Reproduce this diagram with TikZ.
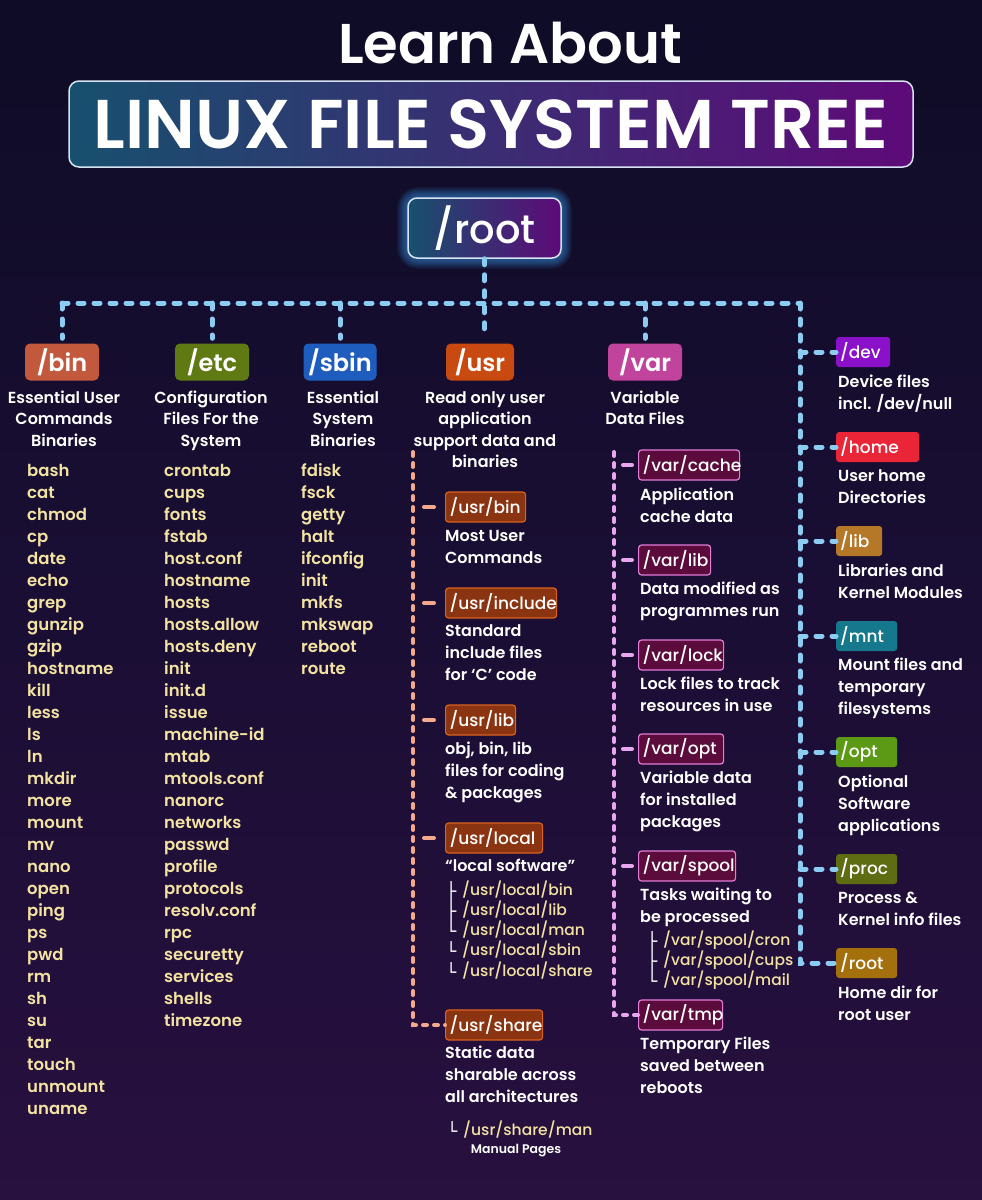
\documentclass[tikz,border=0pt]{standalone}
\usepackage{fontspec}
\usepackage{graphicx}
\setmainfont{Poppins}
\IfFontExistsTF{Poppins SemiBold}{\newfontfamily\psemi{Poppins SemiBold}}{\newfontfamily\psemi{Poppins}[FakeBold=1]}
\IfFontExistsTF{Poppins Medium}{\newfontfamily\pmed{Poppins Medium}}{\newfontfamily\pmed{Poppins}}
\newfontfamily\dv{DejaVu Sans}
\definecolor{bgT}{HTML}{0E0C26}
\definecolor{bgM}{HTML}{1A0E34}
\definecolor{bgB}{HTML}{28103F}
\definecolor{blueC}{HTML}{8CCBF2}
\definecolor{titleL}{HTML}{17506E}
\definecolor{titleR}{HTML}{5E0A78}
\definecolor{titleB}{HTML}{D6E2F2}
\definecolor{binC}{HTML}{C2583C}
\definecolor{etcC}{HTML}{5F7A12}
\definecolor{sbinC}{HTML}{1E5DBE}
\definecolor{usrC}{HTML}{C84A10}
\definecolor{varC}{HTML}{C1449C}
\definecolor{cream}{HTML}{F3E3A2}
\definecolor{usrL}{HTML}{F4A88C}
\definecolor{usrF}{HTML}{8B3411}
\definecolor{usrB}{HTML}{D8621E}
\definecolor{varL}{HTML}{E8A6EE}
\definecolor{varF}{HTML}{5C0C3C}
\definecolor{varB}{HTML}{E27CD6}
\definecolor{devC}{HTML}{8B10C9}
\definecolor{homeC}{HTML}{EA2538}
\definecolor{libC}{HTML}{B57728}
\definecolor{mntC}{HTML}{16788C}
\definecolor{optC}{HTML}{5C9A16}
\definecolor{procC}{HTML}{5E6C12}
\definecolor{rootC}{HTML}{A4700E}
\definecolor{glowC}{HTML}{3FA9FF}
\pgfdeclarelayer{bglayer}
\pgfdeclarelayer{glowlayer}
\pgfsetlayers{bglayer,glowlayer,main}
\tikzset{
  bl/.style={draw=blueC, line width=5pt, line cap=round, dash pattern=on 6pt off 10pt},
  ul/.style={draw=usrL, line width=4pt, line cap=round, dash pattern=on 4pt off 7pt},
  ulstub/.style={draw=usrL, line width=4pt, line cap=round, shorten <=11pt, shorten >=11pt},
  vl/.style={draw=varL, line width=4pt, line cap=round, dash pattern=on 4pt off 7pt},
  vlstub/.style={draw=varL, line width=4pt, line cap=round, shorten <=9pt, shorten >=6pt},
  mainbox/.style={rounded corners=5pt, text=white, inner sep=0pt, minimum height=37pt,
    font=\psemi\fontsize{24}{24}\selectfont},
  descc/.style={anchor=base, text=white, inner sep=0pt, font=\psemi\fontsize{16}{20}\selectfont},
  descl/.style={anchor=base west, text=white, inner sep=0pt, font=\psemi\fontsize{16}{20}\selectfont},
  itemtxt/.style={anchor=base west, text=cream, inner sep=0pt, font=\psemi\fontsize{16.5}{20}\selectfont},
  sidebox/.style={anchor=west, rounded corners=3pt, text=white, inner xsep=4pt, inner ysep=0pt,
    minimum height=30pt, text width=#1, align=left, font=\pmed\fontsize{17}{17}\selectfont},
  usrbox/.style={sidebox=#1, fill=usrF, draw=usrB, line width=1.2pt},
  varbox/.style={sidebox=#1, fill=varF, draw=varB, line width=1.2pt},
  treeg/.style={anchor=base west, text=white, inner sep=0pt, font=\dv\bfseries\fontsize{17}{17}\selectfont},
  treet/.style={anchor=base west, text=cream, inner sep=0pt, font=\pmed\fontsize{15.5}{18}\selectfont}
}
\begin{document}
\begin{tikzpicture}[x=1pt,y=-1pt]
\useasboundingbox (0,0) rectangle (982,1200);
\begin{pgfonlayer}{bglayer}
\shade[top color=bgT, bottom color=bgB, middle color=bgM] (0,0) rectangle (982,1200);
\end{pgfonlayer}

% ---------- Title ----------
\node[text=white, inner sep=0pt, anchor=base, font=\psemi\fontsize{56}{56}\selectfont] (learn) at (510,63) {Learn About};
\node[rounded corners=10pt, draw=titleB, line width=1.5pt, left color=titleL, right color=titleR,
      minimum width=844pt, minimum height=86pt, inner sep=0pt] (title) at (491,124) {};
\node[text=white, inner sep=0pt, anchor=base, font=\psemi\fontsize{69}{69}\selectfont] (titletxt) at (491,148) {LINUX FILE SYSTEM TREE};

% ---------- root ----------
\begin{pgfonlayer}{glowlayer}
\foreach \k in {1,...,9}
  \draw[draw=glowC, opacity=0.07, line width=\k*2.4pt, rounded corners=10pt] (408,198) rectangle (561,258);
\end{pgfonlayer}
\node[rounded corners=9pt, draw=titleB, line width=1.5pt, left color=titleL, right color=titleR,
      minimum width=153pt, minimum height=60pt, inner sep=0pt, text=white,
      font=\pmed\fontsize{40}{40}\selectfont] (root) at (484.5,228) {/root};

% ---------- top-level boxes ----------
\node[mainbox, fill=binC, minimum width=74pt] (bin) at (62,362) {/bin};
\node[mainbox, fill=etcC, minimum width=74pt] (etc) at (212,362) {/etc};
\node[mainbox, fill=sbinC, minimum width=73pt] (sbin) at (340,362) {/sbin};
\node[mainbox, fill=usrC, minimum width=68pt] (usr) at (480,362) {/usr};
\node[mainbox, fill=varC, minimum width=74pt] (var) at (645,362) {/var};

\coordinate (bL) at (62,303);
\coordinate (bR) at (800,303);
\draw[bl] (bL) -- (bR);
\draw[bl, shorten >=5pt] (root.south) -- (root.south |- usr.north);
\foreach \n in {bin,etc,sbin,var}
  \draw[bl, shorten >=5pt] (\n.north |- bL) -- (\n.north);

% ---------- descriptions ----------
\foreach \t [count=\i from 0] in {Essential User,Commands,Binaries}
  \node[descc] (bind\i) at (64,403+21.6*\i) {\t};
\foreach \t [count=\i from 0] in {Configuration,Files For the,System}
  \node[descc] (etcd\i) at (211,403+21.6*\i) {\t};
\foreach \t [count=\i from 0] in {Essential,System,Binaries}
  \node[descc] (sbind\i) at (343,403+21.6*\i) {\t};
\foreach \t [count=\i from 0] in {Read only user,application,support data and,binaries}
  \node[descc] (usrd\i) at (485,403+21.6*\i) {\t};
\foreach \t [count=\i from 0] in {Variable,Data Files}
  \node[descc] (vard\i) at (645,403+21.6*\i) {\t};

% ---------- command lists ----------
\foreach \t [count=\i from 0] in {bash,cat,chmod,cp,date,echo,grep,gunzip,gzip,hostname,kill,less,ls,ln,mkdir,more,mount,mv,nano,open,ping,ps,pwd,rm,sh,su,tar,touch,unmount,uname}
  \node[itemtxt] (bini\i) at (27,476+22.03*\i) {\t};
\foreach \t [count=\i from 0] in {crontab,cups,fonts,fstab,host.conf,hostname,hosts,hosts.allow,hosts.deny,init,init.d,issue,machine-id,mtab,mtools.conf,nanorc,networks,passwd,profile,protocols,resolv.conf,rpc,securetty,services,shells,timezone}
  \node[itemtxt] (etci\i) at (164,476+22.03*\i) {\t};
\foreach \t [count=\i from 0] in {fdisk,fsck,getty,halt,ifconfig,init,mkfs,mkswap,reboot,route}
  \node[itemtxt] (sbini\i) at (301,476+22.03*\i) {\t};

% ---------- /usr subtree ----------
\coordinate (usrTop) at (413,452);
\node[usrbox=72pt] (usrbin) at (445,507) {/usr/bin};
\node[usrbox=103pt] (usrinc) at (445,603) {/usr/include};
\node[usrbox=62pt] (usrlib) at (445,720) {/usr/lib};
\node[usrbox=89pt] (usrloc) at (445,838) {/usr/local};
\node[usrbox=89pt] (usrshr) at (445,1025) {/usr/share};
\draw[ul] (usrTop) |- (usrshr.west);
\foreach \n in {usrbin,usrinc,usrlib,usrloc}
  \draw[ulstub] (\n.west -| usrTop) -- (\n.west);

\foreach \t [count=\i from 0] in {Most User,Commands}
  \node[descl] (usrbind\i) at (445,541+22*\i) {\t};
\foreach \t [count=\i from 0] in {Standard,include files,for ‘C’ code}
  \node[descl] (usrincd\i) at (445,636+22*\i) {\t};
\foreach \t [count=\i from 0] in {{obj, bin, lib},files for coding,\& packages}
  \node[descl] (usrlibd\i) at (445,754+22*\i) {\t};
\node[descl] (usrlocd) at (445,871) {“local software”};
\foreach \g [count=\i from 0] in {├,├,└,└,└}
  \node[treeg] (ulg\i) at (446,897+20.3*\i) {\g};
\foreach \t [count=\i from 0] in {/usr/local/bin,/usr/local/lib,/usr/local/man,/usr/local/sbin,/usr/local/share}
  \node[treet] (ult\i) at (462,895+20.3*\i) {\t};
\foreach \t [count=\i from 0] in {Static data,sharable across,all architectures}
  \node[descl] (usrshrd\i) at (445,1058+22*\i) {\t};
\node[treeg] (usg) at (447,1137) {└};
\node[treet] (ust) at (463,1135) {/usr/share/man};
\node[anchor=base, text=white, inner sep=0pt, font=\psemi\fontsize{12.5}{14}\selectfont] (usm) at (516,1153) {Manual Pages};

% ---------- /var subtree ----------
\coordinate (varTop) at (614,452);
\node[varbox=93pt] (varcache) at (638,465) {/var/cache};
\node[varbox=64pt] (varlib) at (638,560) {/var/lib};
\node[varbox=77pt] (varlock) at (638,655) {/var/lock};
\node[varbox=77pt] (varopt) at (638,749) {/var/opt};
\node[varbox=89pt] (varspool) at (638,866) {/var/spool};
\node[varbox=76pt] (vartmp) at (638,1015) {/var/tmp};
\draw[vl] (varTop) |- (vartmp.west);
\foreach \n in {varcache,varlib,varlock,varopt,varspool}
  \draw[vlstub] (\n.west -| varTop) -- (\n.west);

\foreach \t [count=\i from 0] in {Application,cache data}
  \node[descl] (vcd\i) at (640,500+22*\i) {\t};
\foreach \t [count=\i from 0] in {Data modified as,programmes run}
  \node[descl] (vld\i) at (640,594+22*\i) {\t};
\foreach \t [count=\i from 0] in {Lock files to track,resources in use}
  \node[descl] (vlkd\i) at (640,689+22*\i) {\t};
\foreach \t [count=\i from 0] in {Variable data,for installed,packages}
  \node[descl] (vod\i) at (640,783+22*\i) {\t};
\foreach \t [count=\i from 0] in {Tasks waiting to,be processed}
  \node[descl] (vsd\i) at (640,900+22*\i) {\t};
\foreach \g [count=\i from 0] in {├,├,└}
  \node[treeg] (vsg\i) at (647,947+20*\i) {\g};
\foreach \t [count=\i from 0] in {/var/spool/cron,/var/spool/cups,/var/spool/mail}
  \node[treet] (vst\i) at (663,945+20*\i) {\t};
\foreach \t [count=\i from 0] in {Temporary Files,saved between,reboots}
  \node[descl] (vtd\i) at (640,1049+22*\i) {\t};

% ---------- right column ----------
\node[sidebox=46pt, fill=devC] (dev) at (836,352) {/dev};
\node[sidebox=75pt, fill=homeC] (home) at (836,447) {/home};
\node[sidebox=38pt, fill=libC] (lib) at (836,541) {/lib};
\node[sidebox=53pt, fill=mntC] (mnt) at (836,636) {/mnt};
\node[sidebox=53pt, fill=optC] (opt) at (836,752) {/opt};
\node[sidebox=53pt, fill=procC] (proc) at (836,869) {/proc};
\node[sidebox=53pt, fill=rootC] (rootdir) at (836,963) {/root};
\draw[bl] (bR) |- (rootdir.west);
\foreach \n in {dev,home,lib,mnt,opt,proc}
  \draw[bl] (\n.west -| bR) -- (\n.west);

\foreach \t [count=\i from 0] in {Device files,incl. /dev/null}
  \node[descl] (devd\i) at (838,387+22*\i) {\t};
\foreach \t [count=\i from 0] in {User home,Directories}
  \node[descl] (homed\i) at (838,481+22*\i) {\t};
\foreach \t [count=\i from 0] in {Libraries and,Kernel Modules}
  \node[descl] (libd\i) at (838,576+22*\i) {\t};
\foreach \t [count=\i from 0] in {Mount files and,temporary,filesystems}
  \node[descl] (mntd\i) at (838,670+22*\i) {\t};
\foreach \t [count=\i from 0] in {Optional,Software,applications}
  \node[descl] (optd\i) at (838,787+22*\i) {\t};
\foreach \t [count=\i from 0] in {Process \&,Kernel info files}
  \node[descl] (procd\i) at (838,903+22*\i) {\t};
\foreach \t [count=\i from 0] in {Home dir for,root user}
  \node[descl] (rootd\i) at (838,998+22*\i) {\t};
\end{tikzpicture}
\end{document}
